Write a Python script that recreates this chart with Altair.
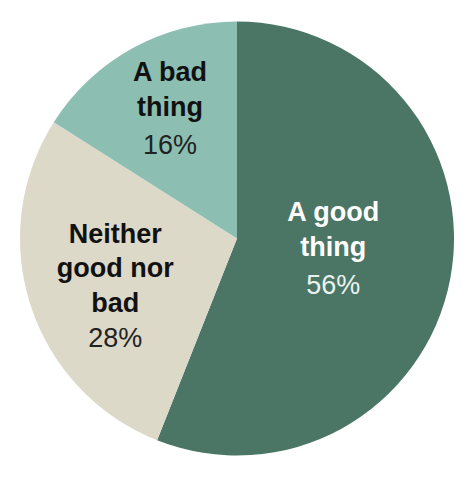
import altair as alt
import pandas as pd

categories = ["A good thing", "Neither good nor bad", "A bad thing"]
values = [56, 28, 16]
name_lines = [["A good", "thing"], ["Neither", "good nor", "bad"], ["A bad", "thing"]]
order_idx = [0, 1, 2]
colors = ["#4b7666", "#dcd9c9", "#8cbfb2"]

# text rows: bold name lines fill slots 0..n-1, percentage goes in slot n
rows = {"cat": categories, "value": values, "idx": order_idx}
for s in range(3):
    rows[f"b{s}"] = [lines[s] if s < len(lines) else "" for lines in name_lines]
for s in (2, 3):
    rows[f"r{s}"] = [f"{v}%" if len(lines) == s else "" for lines, v in zip(name_lines, values)]
df = pd.DataFrame(rows)

total = sum(values)
theta_scale = alt.Scale(domain=[0, total])
color_scale = alt.Scale(domain=categories, range=colors)

base = alt.Chart(df)

pie = base.mark_arc(outerRadius=217, strokeWidth=0).encode(
    theta=alt.Theta("value:Q", stack=True, scale=theta_scale),
    order=alt.Order("idx:Q"),
    color=alt.Color("cat:N", scale=color_scale, legend=None),
)

label_base = base.transform_window(
    cum="sum(value)", sort=[alt.SortField("idx")], frame=[None, 0]
).transform_calculate(
    mid="datum.cum - datum.value / 2",
    lr="datum.cat == 'A good thing' ? 98 : (datum.cat == 'A bad thing' ? 139 : 128)",
)

is_good = alt.datum.cat == "A good thing"
LH = 34.5
D0 = -9


def text_layer(field, slot, bold, extra=0):
    return label_base.mark_text(
        baseline="middle", align="center",
        font="Liberation Sans", fontSize=27,
        fontWeight="bold" if bold else "normal",
        dy=D0 + (slot - 1) * LH + extra,
    ).encode(
        theta=alt.Theta("mid:Q", stack=None, scale=theta_scale),
        radius=alt.Radius("lr:Q", scale=None, stack=None),
        text=alt.Text(f"{field}:N"),
        color=alt.condition(
            is_good,
            alt.value("#ffffff" if bold else "#eaf2ee"),
            alt.value("#111111" if bold else "#222222"),
        ),
    )


layers = [pie]
for s in range(3):
    layers.append(text_layer(f"b{s}", s, True))
layers.append(text_layer("r2", 2, False, extra=4))
layers.append(text_layer("r3", 3, False, extra=1))

chart = alt.layer(*layers).properties(
    width=474,
    height=477,
    autosize=alt.AutoSizeParams(type="fit", contains="padding"),
    padding=0,
    background="white",
).configure_view(stroke=None)

chart.save("out.html", embed_options={"renderer": "svg", "actions": False})
